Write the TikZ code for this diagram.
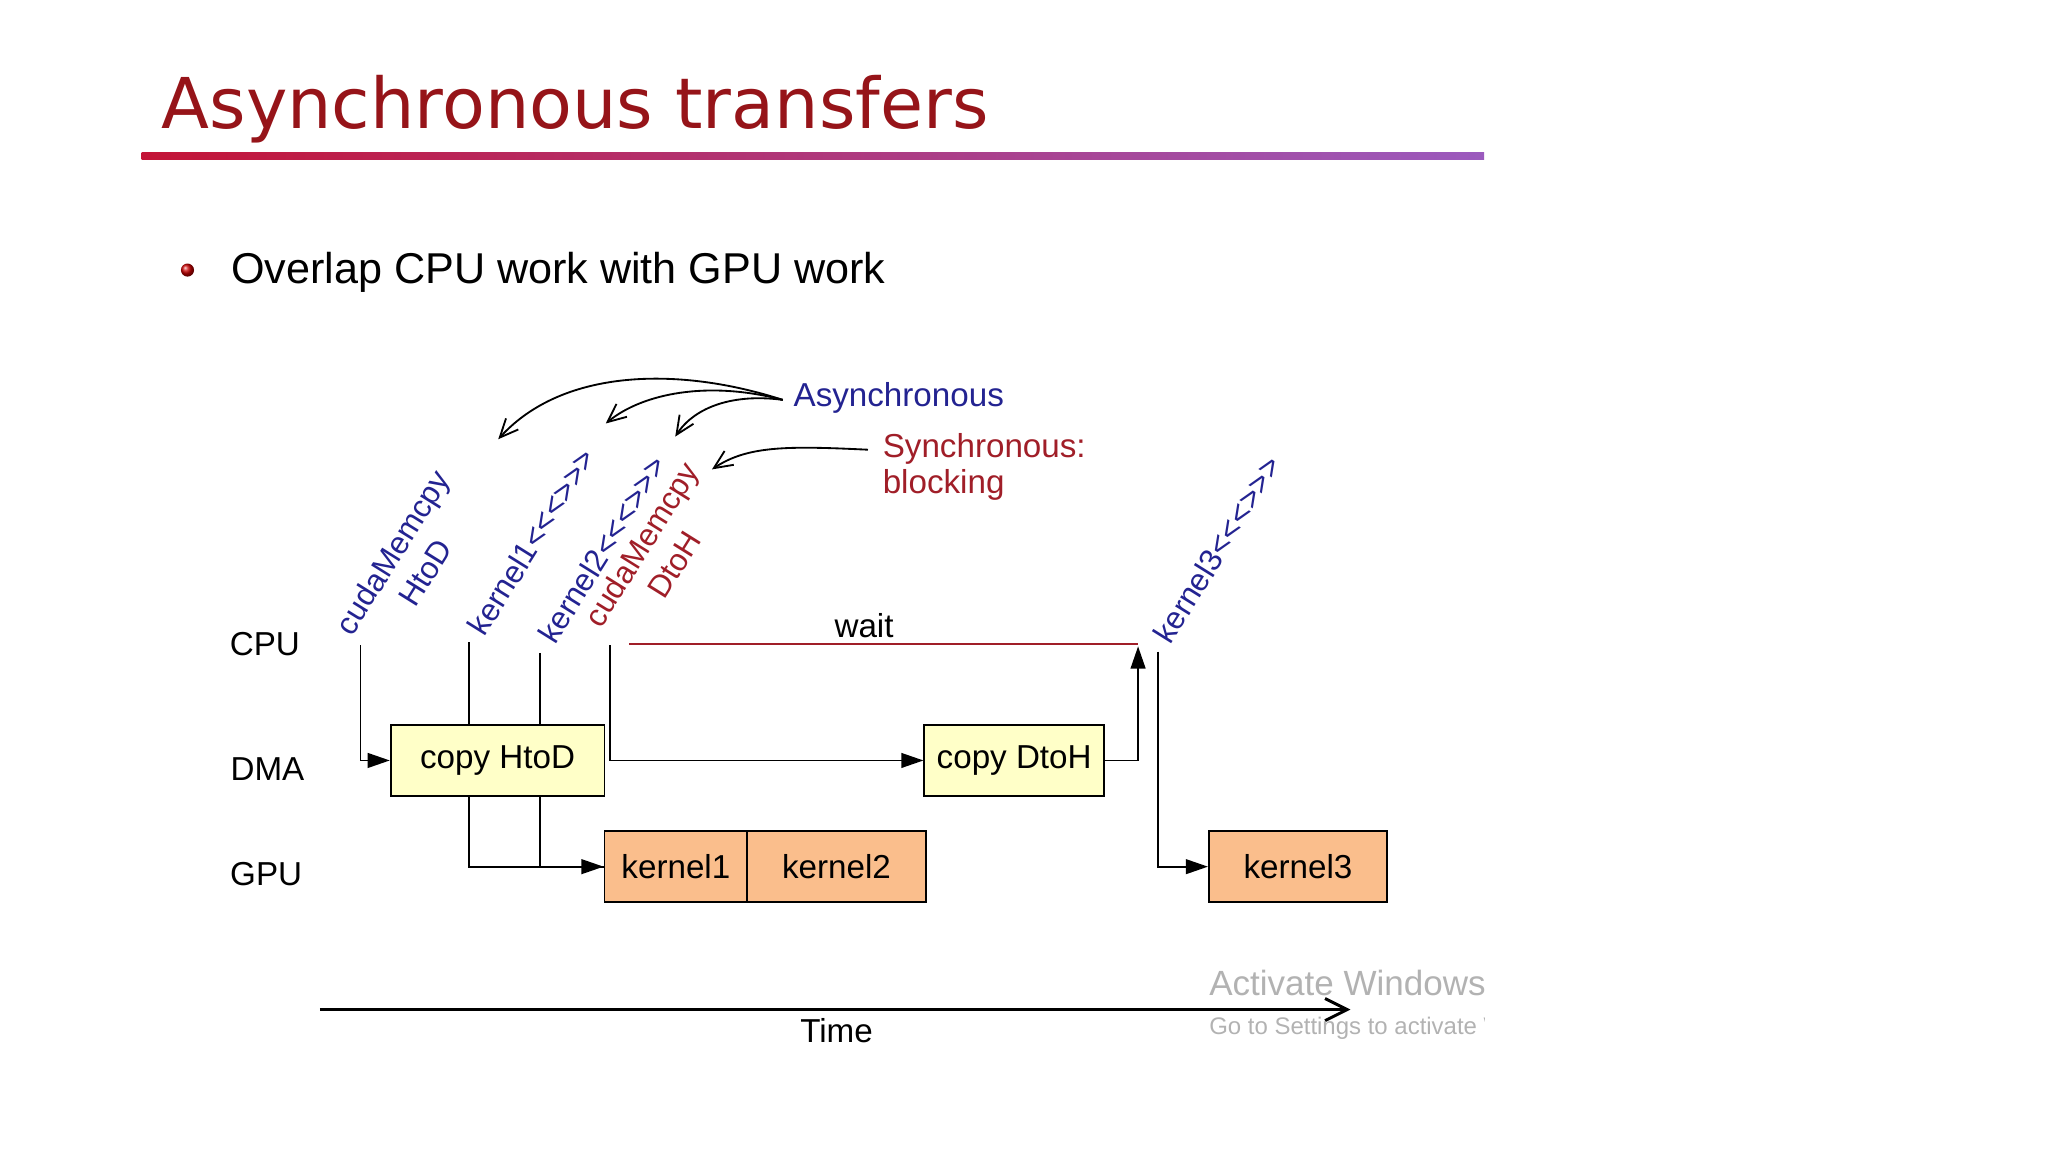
\documentclass[tikz,border=0pt]{standalone}
\usepackage{fontspec}
\setmainfont{Liberation Sans}
\newfontfamily\titlefont{DejaVu Sans}
\usetikzlibrary{arrows.meta}
\definecolor{tred}{RGB}{150,20,25}
\definecolor{ablue}{RGB}{35,35,145}
\definecolor{sred}{RGB}{160,30,40}
\definecolor{yfill}{RGB}{255,255,200}
\definecolor{ofill}{RGB}{250,190,140}
\definecolor{gl}{RGB}{195,20,55}
\definecolor{gr}{RGB}{155,90,190}
\newcommand{\lll}{<{}<{}<}
\newcommand{\ggg}{>{}>{}>}
\begin{document}
\begin{tikzpicture}[x=0.025cm,y=-0.025cm,
  lbl/.style={font=\fontsize{18}{20}\selectfont},
  box/.style={draw,line width=1pt,minimum height=54*0.025cm,inner sep=0pt,font=\fontsize{18}{20}\selectfont},
  rot/.style={rotate=58,anchor=south west,font=\fontsize{17}{21}\selectfont,align=center,inner sep=0pt},
  conn/.style={line width=1pt},
  arr/.style={line width=1pt,-{Triangle[length=12pt,width=8pt]}},
  carr/.style={line width=1pt,-{Straight Barb[length=10pt,width=9pt]}}]
\useasboundingbox (0,0) rectangle (1562,878);
% title
\node[anchor=base west,inner sep=0pt,text=tred,font=\titlefont\fontsize{38}{42}\selectfont] (title) at (123,98) {Asynchronous transfers};
\shade[left color=gl,right color=gr] (108,116) rectangle (1132,122);
% bullet
\shade[ball color=red!80!black] (143,206) circle (5);
\node[anchor=base west,inner sep=0pt,font=\fontsize{23.4}{25}\selectfont] (bul) at (176,216) {Overlap CPU work with GPU work};
% row labels
\node[lbl,anchor=base] (cpu) at (202,500) {CPU};
\node[lbl,anchor=base] (dma) at (204,595) {DMA};
\node[lbl,anchor=base] (gpu) at (203,675) {GPU};
% coordinates
\coordinate (a1) at (275,492);
\coordinate (a2) at (358,490);
\coordinate (a3) at (412,498);
\coordinate (a4) at (465,492);
\coordinate (a5) at (883,497);
\coordinate (w1) at (480,491);
\coordinate (w2) at (868,491);
\coordinate (k1w) at (461,661);
% connectors (under boxes)
\draw[conn] (a2) |- (k1w);
\draw[conn] (a3) -- (412,661);
% boxes
\node[box,fill=yfill,minimum width=163*0.025cm] (htod) at (379.5,580) {copy HtoD};
\node[box,fill=yfill,minimum width=137*0.025cm] (dtoh) at (773.5,580) {copy DtoH};
\node[box,fill=ofill,minimum width=109*0.025cm] (k1) at (515.5,661) {kernel1};
\node[box,fill=ofill,minimum width=136*0.025cm] (k2) at (638,661) {kernel2};
\node[box,fill=ofill,minimum width=136*0.025cm] (k3) at (990,661) {kernel3};
\draw[arr] (a1) |- (htod.west);
\draw[arr] (412,661) -- (k1.west);
\draw[arr] (a4) |- (dtoh.west);
\draw[arr] (dtoh.east) -| (868,493);
\draw[sred,line width=1pt] (w1) -- (w2);
\node[lbl,anchor=base] (wait) at (659,486) {wait};
\draw[arr] (a5) |- (k3.west);
% rotated labels
\node[rot,text=ablue] (l1) at (294,502) {cudaMemcpy\\HtoD};
\node[rot,text=ablue] (l2) at (370,487) {kernel1\lll\ggg};
\node[rot,text=ablue] (l3) at (424,493) {kernel2\lll\ggg};
\node[rot,text=sred] (l4) at (484,496) {cudaMemcpy\\DtoH};
\node[rot,text=ablue] (l5) at (893,493) {kernel3\lll\ggg};
% annotations
\node[lbl,anchor=base west,text=ablue,inner sep=0pt] (async) at (605,310) {Asynchronous};
\node[lbl,anchor=north west,text=sred,inner sep=0pt,align=left] (sync) at (673,330) {Synchronous:\\blocking};
\coordinate (as) at (597,305);
\draw[carr] (as) .. controls (520,280) and (430,280) .. (380,335);
\draw[carr] (as) .. controls (540,290) and (490,300) .. (462,323);
\draw[carr] (as) .. controls (560,300) and (530,310) .. (515,333);
\draw[carr] (662,343) .. controls (600,340) and (570,340) .. (543,358);
% time axis
\coordinate (t0) at (244,770);
\coordinate (t1) at (1030,770);
\draw[line width=1.3pt,-{Straight Barb[length=12pt,width=12pt,line width=1.6pt]}] (t0) -- (t1);
\node[lbl,anchor=base] (time) at (638,795) {Time};
% watermark
\begin{scope}
\clip (900,720) rectangle (1132,800);
\node[anchor=base west,inner sep=0pt,text=black!30,font=\fontsize{19}{20}\selectfont] (wm1) at (922,759) {Activate Windows};
\node[anchor=base west,inner sep=0pt,text=black!30,font=\fontsize{13}{14}\selectfont] (wm2) at (922,789) {Go to Settings to activate Windows.};
\end{scope}
\end{tikzpicture}
\end{document}
